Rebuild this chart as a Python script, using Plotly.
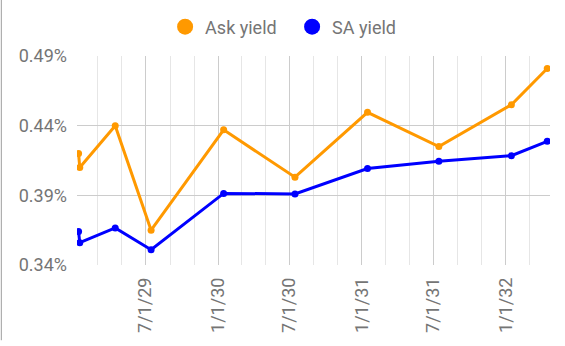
import plotly.graph_objects as go

dates = ["1929-01-12", "1929-01-15", "1929-04-15", "1929-07-15", "1930-01-15",
         "1930-07-15", "1931-01-15", "1931-07-15", "1932-01-15", "1932-04-15"]
ask_yield = [0.420, 0.410, 0.440, 0.365, 0.437, 0.403, 0.4496, 0.425, 0.455, 0.481]
sa_yield = [0.364, 0.356, 0.3666, 0.351, 0.3914, 0.391, 0.4092, 0.4144, 0.4184, 0.4288]

ORANGE = "#FF9900"
BLUE = "#0000FF"
GRAY = "#757575"
FONT = "Roboto"

fig = go.Figure()
for name, vals, col in [("Ask yield", ask_yield, ORANGE), ("SA yield", sa_yield, BLUE)]:
    fig.add_trace(go.Scatter(x=dates, y=vals, mode="lines+markers", name=name,
                             line=dict(color=col, width=3), marker=dict(color=col, size=7),
                             showlegend=False))
    fig.add_trace(go.Scatter(x=[None], y=[None], mode="markers", name=name,
                             marker=dict(color=col, size=18), showlegend=True))

fig.update_layout(
    width=565, height=346,
    margin=dict(l=77, r=15, t=56, b=81, autoexpand=False),
    paper_bgcolor="white", plot_bgcolor="white",
    font=dict(family=FONT, size=18, color=GRAY),
    legend=dict(orientation="h", xref="container", yref="container",
                x=0.517, xanchor="center", y=0.922, yanchor="middle",
                font=dict(size=18, color=GRAY), entrywidth=82, itemclick=False),
    xaxis=dict(type="date", range=["1929-01-08", "1932-04-22"],
               tick0="1929-07-01", dtick="M6", tickformat="%-m/%-d/%y",
               tickangle=-90, showgrid=True, gridcolor="#cccccc", gridwidth=1,
               minor=dict(dtick="M2", showgrid=True, gridcolor="#e6e6e6", gridwidth=1),
               zeroline=False, showline=False, ticklabelstandoff=8,
               tickfont=dict(size=18, color=GRAY)),
    yaxis=dict(range=[0.34, 0.49], tick0=0.34, dtick=0.05, tickformat=".2f",
               ticksuffix="%", showgrid=True, gridcolor="#cccccc", gridwidth=1,
               zeroline=False, showline=False, ticklabelstandoff=9,
               tickfont=dict(size=18, color=GRAY)),
    shapes=[dict(type="line", xref="paper", yref="paper",
                 x0=-0.16, x1=-0.16, y0=-0.36, y1=1.27,
                 line=dict(color="#9e9e9e", width=1))],
)
fig.write_html("out.html")
